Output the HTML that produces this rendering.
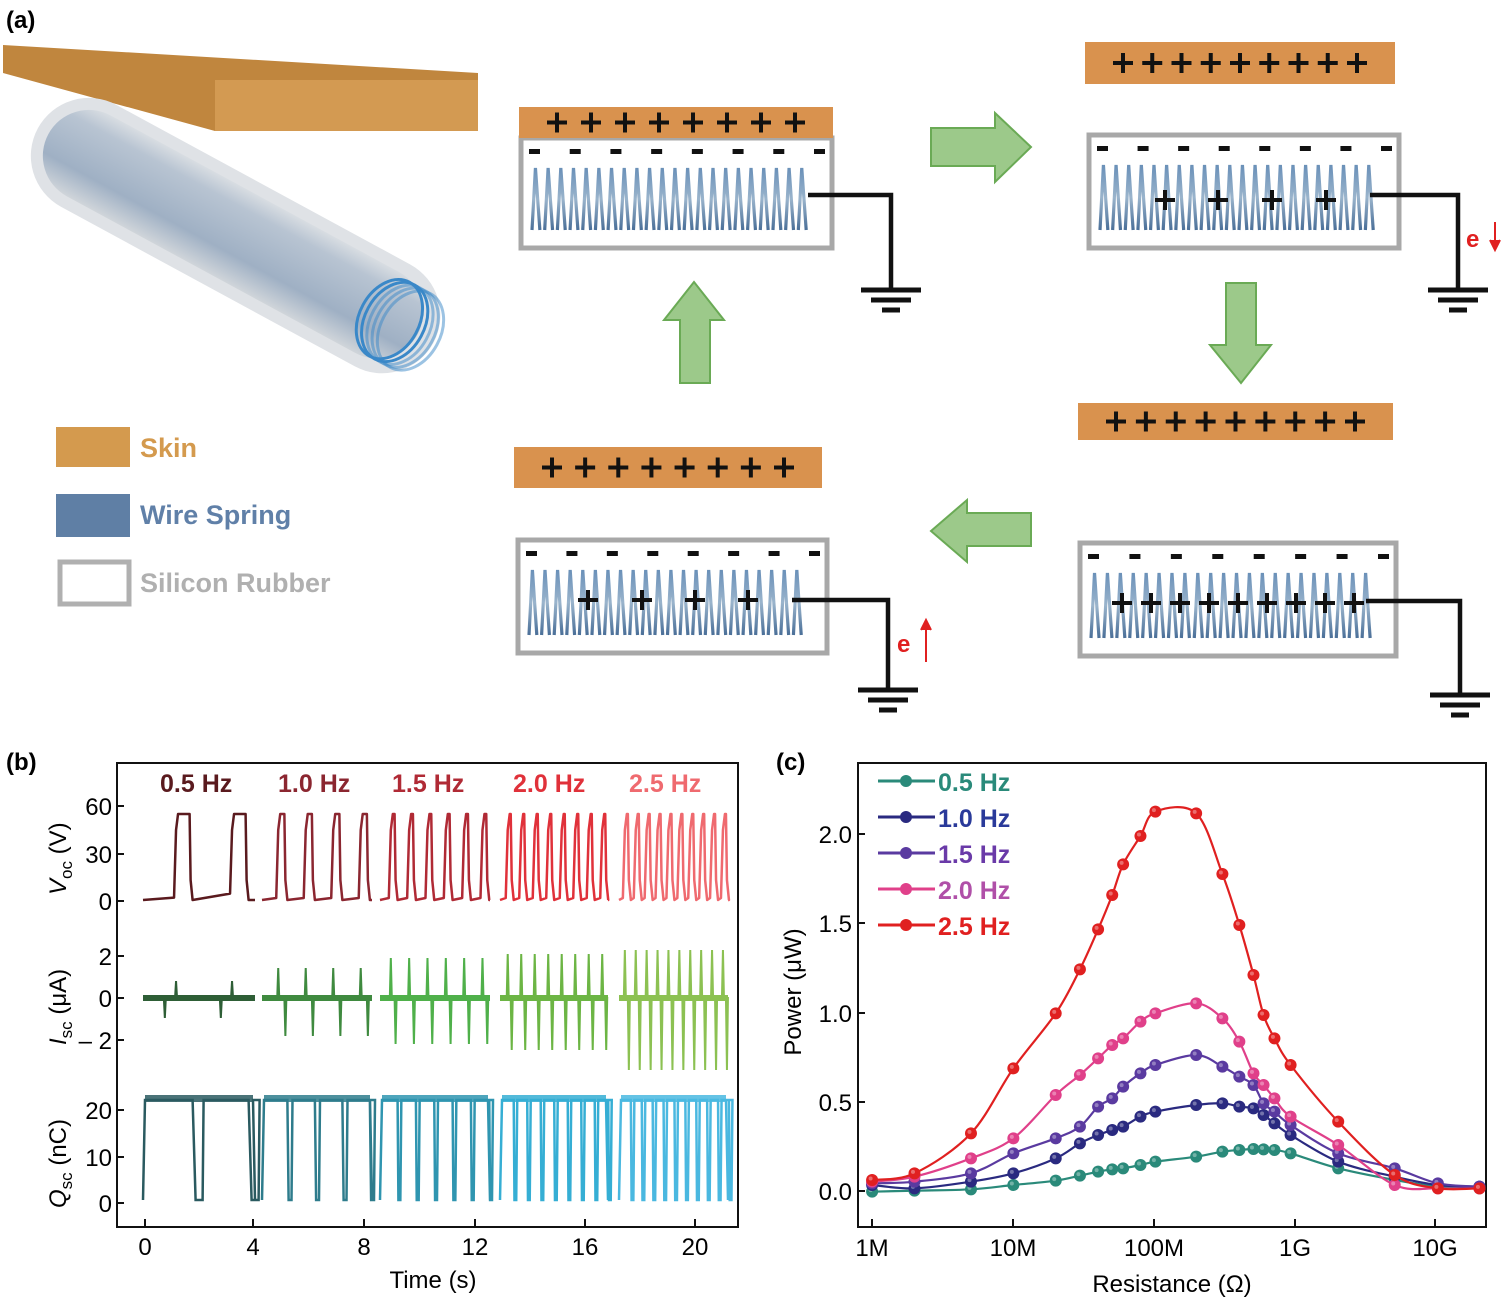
<!DOCTYPE html>
<html><head><meta charset="utf-8"><style>
html,body{margin:0;padding:0;background:#fff;}
svg{display:block;font-family:"Liberation Sans",sans-serif;}
.b{font-weight:bold;}
</style></head><body>
<svg id="s" width="1502" height="1303" viewBox="0 0 1502 1303" xmlns="http://www.w3.org/2000/svg">
<defs>
<linearGradient id="tube" x1="0" y1="0" x2="0" y2="1">
<stop offset="0" stop-color="#d8dde2"/><stop offset="0.2" stop-color="#b8c4d2"/><stop offset="0.7" stop-color="#9fb0c4"/><stop offset="1" stop-color="#d0d5da"/></linearGradient>
<linearGradient id="spr" x1="0" y1="0" x2="0" y2="1">
<stop offset="0" stop-color="#6a90b8"/><stop offset="0.5" stop-color="#9ab4cc"/><stop offset="1" stop-color="#4a6f98"/></linearGradient>
</defs>
<g id="g"></g>
<text x="6" y="28" font-size="24" class="b">(a)</text>
<text x="6" y="770" font-size="24" class="b">(b)</text>
<text x="776" y="770" font-size="24" class="b">(c)</text>
<text x="140" y="457" font-size="27" class="b" fill="#d49a4e">Skin</text>
<text x="140" y="524" font-size="27" class="b" fill="#6080a8">Wire Spring</text>
<text x="140" y="592" font-size="27" class="b" fill="#b0b0b0">Silicon Rubber</text>
<text x="1466" y="247" font-size="24" class="b" fill="#e02020">e</text>
<text x="897" y="652" font-size="24" class="b" fill="#e02020">e</text>
<g font-size="25" class="b">
<text x="160" y="792" fill="#5a1a1e">0.5 Hz</text>
<text x="278" y="792" fill="#8b2630">1.0 Hz</text>
<text x="392" y="792" fill="#b02a35">1.5 Hz</text>
<text x="513" y="792" fill="#e0313a">2.0 Hz</text>
<text x="629" y="792" fill="#ef6a6f">2.5 Hz</text>
</g>
<g font-size="24" text-anchor="end">
<text x="112" y="815">60</text><text x="112" y="863">30</text><text x="112" y="910">0</text>
<text x="112" y="965">2</text><text x="112" y="1007">0</text><text x="112" y="1049">– 2</text>
<text x="112" y="1119">20</text><text x="112" y="1166">10</text><text x="112" y="1212">0</text>
</g>
<g font-size="24" text-anchor="middle">
<text x="145" y="1255">0</text><text x="253" y="1255">4</text><text x="364" y="1255">8</text><text x="475" y="1255">12</text><text x="585" y="1255">16</text><text x="695" y="1255">20</text>
<text x="433" y="1288">Time (s)</text>
</g>
<g font-size="24">
<text transform="translate(66,895) rotate(-90)"><tspan font-style="italic">V</tspan><tspan font-size="17" dy="6">oc</tspan><tspan dy="-6"> (V)</tspan></text>
<text transform="translate(66,1045) rotate(-90)"><tspan font-style="italic">I</tspan><tspan font-size="17" dy="6">sc</tspan><tspan dy="-6"> (μA)</tspan></text>
<text transform="translate(66,1208) rotate(-90)"><tspan font-style="italic">Q</tspan><tspan font-size="17" dy="6">sc</tspan><tspan dy="-6"> (nC)</tspan></text>
</g>
<g font-size="24" text-anchor="end">
<text x="852" y="843">2.0</text><text x="852" y="932">1.5</text><text x="852" y="1022">1.0</text><text x="852" y="1111">0.5</text><text x="852" y="1200">0.0</text>
</g>
<g font-size="24" text-anchor="middle">
<text x="872" y="1256">1M</text><text x="1013" y="1256">10M</text><text x="1154" y="1256">100M</text><text x="1295" y="1256">1G</text><text x="1435" y="1256">10G</text>
<text x="1172" y="1292">Resistance (Ω)</text>
<text transform="translate(801,992) rotate(-90)">Power (μW)</text>
</g>
<g font-size="25" class="b">
<text x="938" y="791" fill="#2a8a7a">0.5 Hz</text>
<text x="938" y="827" fill="#2a3a9a">1.0 Hz</text>
<text x="938" y="863" fill="#6a3aa8">1.5 Hz</text>
<text x="938" y="899" fill="#b050a8">2.0 Hz</text>
<text x="938" y="935" fill="#e02020">2.5 Hz</text>
</g>
</svg>
<script>
var g=document.getElementById('g'),NS='http://www.w3.org/2000/svg';
function el(t,a){var e=document.createElementNS(NS,t);for(var k in a)e.setAttribute(k,a[k]);g.appendChild(e);return e;}
el('polygon',{points:'3,45 478,73 478,131 215,131 3,73',fill:'#c0863e'});
el('rect',{x:215,y:80,width:263,height:51,fill:'#d39a52'});
var tg=el('g',{transform:'rotate(28.5 240 238)'});
function tel(t,a){var e=document.createElementNS(NS,t);for(var k in a)e.setAttribute(k,a[k]);tg.appendChild(e);return e;}
tel('rect',{x:10,y:180,width:450,height:116,rx:58,fill:'#dfe2e6'});
tel('rect',{x:22,y:192,width:420,height:92,rx:46,fill:'url(#tube)'});
for(var i=0;i<5;i++)tel('ellipse',{cx:410+i*6,cy:238,rx:30,ry:42,fill:'none',stroke:'#3a88c8','stroke-width':3,opacity:i<2?1:0.5});
el('rect',{x:56,y:427,width:74,height:40,fill:'#d49a4e'});
el('rect',{x:56,y:494,width:74,height:43,fill:'#5f7fa5'});
el('rect',{x:60,y:562,width:69,height:42,fill:'none',stroke:'#b0b0b0','stroke-width':5});
function plus(x,y,s,w){el('path',{d:'M'+(x-s)+' '+y+'H'+(x+s)+'M'+x+' '+(y-s)+'V'+(y+s),stroke:'#111','stroke-width':w||4});}
function skin(x,y,w,h,n){el('rect',{x:x,y:y,width:w,height:h,fill:'#d9924e'});for(var i=0;i<n;i++)plus(x+38+i*(w-76)/(n-1),y+h/2,10,4);}
function box(x,y,w,h,minus){el('rect',{x:x,y:y,width:w,height:h,fill:'#fff',stroke:'#a8a8a8','stroke-width':5});
 if(minus){for(var i=0;i<8;i++)el('rect',{x:x+8+i*(w-26)/7,y:y+11,width:11,height:5,fill:'#111'});}
 var d='',x0=x+10,x1=x+w-22,per=(x1-x0)/22;for(var i=0;i<22;i++){var a=x0+i*per;d+='M'+(a+1)+' '+(y+h-18)+'L'+(a+per*0.35)+' '+(y+30)+'L'+(a+per*0.7)+' '+(y+h-18);}
 el('path',{d:d,fill:'none',stroke:'url(#spr)','stroke-width':3.2});}
function ground(x,y){el('path',{d:'M'+(x-30)+' '+y+'H'+(x+30)+'M'+(x-20)+' '+(y+10)+'H'+(x+20)+'M'+(x-9)+' '+(y+20)+'H'+(x+9),stroke:'#111','stroke-width':5});}
function wire(x0,y0,x1,y1){el('path',{d:'M'+x0+' '+y0+'H'+x1+'V'+y1,fill:'none',stroke:'#111','stroke-width':4.5});ground(x1,y1);}
box(521,138,311,110,true);skin(519,107,314,31,8);wire(808,195,891,290);
skin(1085,42,310,42,9);box(1089,135,310,113,true);[1165,1218,1272,1326].forEach(function(x){plus(x,200,10,4);});wire(1370,195,1458,290);
skin(1078,403,315,37,9);box(1080,543,316,113,true);for(var i=0;i<9;i++)plus(1122+i*29,603,10,4);wire(1366,601,1460,695);
skin(514,447,308,41,8);box(518,540,309,113,true);[588,642,695,748].forEach(function(x){plus(x,600,10,4);});wire(792,600,888,690);
el('path',{d:'M1495 222V248M1490 240L1495 250L1500 240',stroke:'#e02020','stroke-width':2,fill:'#e02020'});
el('path',{d:'M926 662V622M921 630L926 620L931 630',stroke:'#e02020','stroke-width':2,fill:'#e02020'});
var ga={fill:'#9cc98a',stroke:'#6aaa55','stroke-width':2};
ga.points='931,128 995,128 995,113 1031,147 995,182 995,166 931,166';el('polygon',ga);
ga.points='1226,283 1256,283 1256,345 1271,345 1241,383 1210,345 1226,345';el('polygon',Object.assign({},ga));
ga.points='1031,513 967,513 967,500 931,531 967,562 967,546 1031,546';el('polygon',Object.assign({},ga));
ga.points='680,383 710,383 710,320 724,320 694,282 664,320 680,320';el('polygon',Object.assign({},ga));
el('rect',{x:117,y:763,width:621,height:464,fill:'none',stroke:'#111','stroke-width':2});
[806,854,901,956,998,1040,1110,1157,1203].forEach(function(y){el('path',{d:'M117 '+y+'h7',stroke:'#111','stroke-width':2});});
[145,253,364,475,585,695].forEach(function(x){el('path',{d:'M'+x+' 1227v-8',stroke:'#111','stroke-width':2});});
var seg=[[143,255],[262,372],[380,490],[500,608],[619,728]],np=[2,4,6,8,10];
var vc=['#5a1a1e','#8b2630','#b02a35','#e0313a','#ef6a6f'],ic=['#2e5e36','#3f8a3f','#4fb04a','#6cb544','#8cc152'],qc=['#2a5a60','#2e7c8c','#2f95b0','#35aed4','#4ab8e0'];
var iu=[17,30,40,44,48],idn=[20,38,46,52,72];
for(var s=0;s<5;s++){var a=seg[s][0],b=seg[s][1],n=np[s],P=(b-a)/n;
 var dv='M'+a+' 900',di='M'+a+' 998',dq='M'+a+' 1200L'+(a+2)+' 1100';
 for(var k=0;k<n;k++){var c=a+(k+0.72)*P,w=Math.max(P*0.26,4);
  var base=900-(s==0?8*(k*P+0.6*P)/P/2:2);
  dv+='L'+(c-w/2-2)+' '+base+'L'+(c-w/2)+' 830L'+(c-w/2+2)+' 814L'+(c+w/2-1)+' 814L'+(c+w/2)+' 880L'+(c+w/2+2)+' 900';
  var xu=c-w/2,xd=c-w/2-P*0.2;
  if(s>0)xd=c+w/2;
  di+='L'+(xd-1)+' 998L'+xd+' '+(998+idn[s])+'L'+(xd+1)+' 998L'+(xu-1)+' 998L'+xu+' '+(998-iu[s])+'L'+(xu+1)+' 998';
  var dw=s==0?10:Math.max(P*0.15,2.5),qc0=c+w/2+2;
  dq+='L'+(qc0)+' 1100L'+(qc0+dw*0.3)+' 1200L'+(qc0+dw)+' 1200L'+(qc0+dw+1)+' 1100';
 }
 dv+='L'+b+' 900';di+='L'+b+' 998';dq+='L'+(b-2)+' 1100L'+b+' 1200';
 el('path',{d:dv,fill:'none',stroke:vc[s],'stroke-width':2.5,'stroke-linejoin':'round'});
 el('path',{d:di,fill:'none',stroke:ic[s],'stroke-width':2});
 el('rect',{x:a,y:995,width:b-a,height:6,fill:ic[s]});
 el('path',{d:dq,fill:'none',stroke:qc[s],'stroke-width':2.5});
 el('rect',{x:a+2,y:1095,width:b-a-4,height:7,fill:qc[s],opacity:0.85});
}
el('rect',{x:858,y:763,width:628,height:464,fill:'none',stroke:'#111','stroke-width':2});
[834,923,1013,1102,1191].forEach(function(y){el('path',{d:'M858 '+y+'h7',stroke:'#111','stroke-width':2});});
[872,1013,1154,1295,1435].forEach(function(x){el('path',{d:'M'+x+' 1227v-8',stroke:'#111','stroke-width':2});});
var zx=[30,135,275,380,485,545,590,625,652,695,732,833,898,940,975,1000,1027,1067,1185,1325,1432,1535];
var ser=[
['#2a8a7a',[1265,1262,1258,1245,1232,1217,1205,1198,1195,1185,1175,1160,1145,1140,1137,1138,1140,1150,1195,1230,1250,1255]],
['#2a2a80',[1245,1255,1235,1210,1165,1120,1095,1080,1070,1040,1025,1005,1000,1010,1015,1035,1060,1095,1175,1220,1245,1250]],
['#5a3aa0',[1240,1235,1210,1150,1105,1070,1010,985,950,910,885,855,890,920,945,1000,1025,1065,1150,1195,1240,1250]],
['#e0408a',[1235,1220,1165,1105,975,915,865,825,805,755,730,700,745,815,910,945,985,1040,1125,1245,1255,1255]],
['#e02020',[1230,1210,1090,895,730,598,478,375,283,198,125,130,312,465,615,735,805,885,1055,1215,1255,1255]]];
ser.forEach(function(sr){var pts=zx.map(function(x,i){return [x/2.478+860,770+sr[1][i]/3];});
 var d='';for(var i=0;i<pts.length;i++){if(i==0){d='M'+pts[0];continue;}var p0=pts[Math.max(i-2,0)],p1=pts[i-1],p2=pts[i],p3=pts[Math.min(i+1,pts.length-1)];
  d+='C'+(p1[0]+(p2[0]-p0[0])/6)+' '+(p1[1]+(p2[1]-p0[1])/6)+' '+(p2[0]-(p3[0]-p1[0])/6)+' '+(p2[1]-(p3[1]-p1[1])/6)+' '+p2[0]+' '+p2[1];}
 el('path',{d:d,fill:'none',stroke:sr[0],'stroke-width':2.2});
 pts.forEach(function(p){el('circle',{cx:p[0],cy:p[1],r:6,fill:sr[0]});el('circle',{cx:p[0]-1.5,cy:p[1]-1.5,r:2,fill:'#fff',opacity:0.35});});
});
ser.forEach(function(sr,i){var y=781+i*36;el('path',{d:'M878 '+y+'H935',stroke:sr[0],'stroke-width':3});el('circle',{cx:906,cy:y,r:6,fill:sr[0]});});
</script>
</body></html>
